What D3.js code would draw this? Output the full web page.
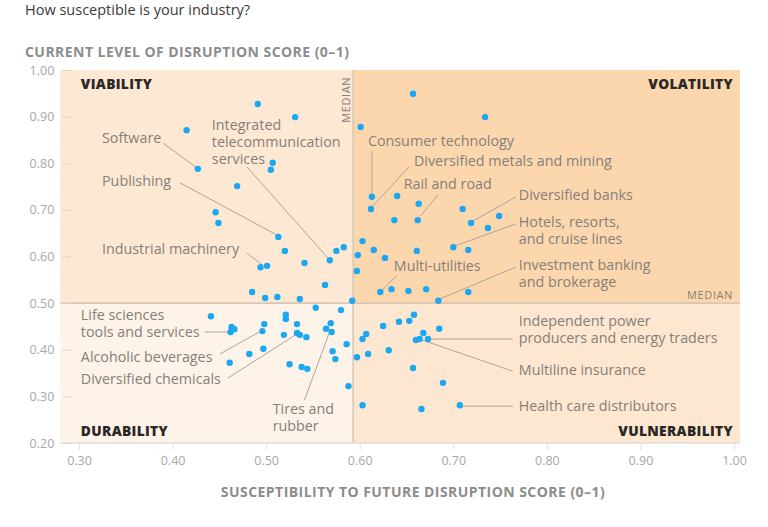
<!DOCTYPE html>
<html lang="en">
<head>
<meta charset="UTF-8">
<title>How susceptible is your industry?</title>
<style>
    html, body { margin: 0; padding: 0; background: #fff; }
    body { font-family: "Open Sans", "DejaVu Sans", sans-serif; }
    .tick text { fill: #a8a8a8; font-size: 12.5px; }
    .lbl { fill: #857f7a; font-size: 14.3px; }
    .quad { fill: #2b2726; font-size: 13.8px; font-weight: 800; letter-spacing: 0.3px; }
    .atitle { fill: #8c8c8c; font-size: 14px; font-weight: 700; letter-spacing: 0.45px; }
</style>
</head>
<body>
<svg id="svg" width="768" height="527"></svg>
<script src="https://d3js.org/d3.v7.min.js"></script>
<script>
// susceptibility to future disruption (x) and current disruption (y), one entry per industry dot
const futureScore = [
    0.491, 0.531, 0.415, 0.507, 0.505, 0.427, 0.469, 0.446, 0.449, 0.513,
    0.520, 0.541, 0.568, 0.575, 0.583, 0.494, 0.501, 0.563, 0.485, 0.499,
    0.512, 0.536, 0.592,
    0.657, 0.734, 0.601, 0.613, 0.612, 0.640, 0.663, 0.710, 0.637, 0.662,
    0.719, 0.749, 0.737, 0.603, 0.598, 0.615, 0.627, 0.661, 0.700, 0.716,
    0.597, 0.622, 0.634, 0.652, 0.671, 0.716, 0.684,
    0.553, 0.580, 0.441, 0.521, 0.521, 0.463, 0.462, 0.466, 0.498, 0.496,
    0.533, 0.533, 0.536, 0.543, 0.519, 0.569, 0.564, 0.570, 0.482, 0.497,
    0.461, 0.571, 0.574, 0.586, 0.525, 0.538, 0.544, 0.588,
    0.658, 0.653, 0.642, 0.625, 0.685, 0.607, 0.603, 0.668, 0.660, 0.664,
    0.673, 0.631, 0.609, 0.597, 0.657, 0.689, 0.603, 0.666, 0.707
];
const currentScore = [
    0.927, 0.899, 0.871, 0.801, 0.786, 0.788, 0.751, 0.695, 0.672, 0.642,
    0.612, 0.586, 0.592, 0.612, 0.620, 0.577, 0.580, 0.539, 0.524, 0.511,
    0.513, 0.509, 0.505,
    0.949, 0.899, 0.878, 0.728, 0.702, 0.730, 0.713, 0.702, 0.678, 0.678,
    0.672, 0.687, 0.661, 0.633, 0.603, 0.614, 0.597, 0.612, 0.620, 0.614,
    0.569, 0.524, 0.530, 0.526, 0.530, 0.524, 0.505,
    0.490, 0.485, 0.472, 0.475, 0.466, 0.449, 0.438, 0.444, 0.455, 0.440,
    0.455, 0.436, 0.432, 0.427, 0.432, 0.457, 0.445, 0.438, 0.391, 0.402,
    0.372, 0.397, 0.380, 0.412, 0.369, 0.363, 0.359, 0.322,
    0.475, 0.462, 0.460, 0.451, 0.445, 0.434, 0.423, 0.436, 0.421, 0.423,
    0.423, 0.399, 0.391, 0.384, 0.361, 0.329, 0.281, 0.273, 0.281
];

const xTicks = [0.30, 0.40, 0.50, 0.60, 0.70, 0.80, 0.90, 1.00];
const yTicks = [0.20, 0.30, 0.40, 0.50, 0.60, 0.70, 0.80, 0.90, 1.00];
const medianX = 0.593;
const medianY = 0.50;

const quadrantNames = ["VIABILITY", "VOLATILITY", "DURABILITY", "VULNERABILITY"];

// callouts: text lines, where the text sits, and the leader line (all in score units)
const callouts = [
    { text: ["Software"], at: [0.3246, 0.854], from: [0.390, 0.843], to: [0.426, 0.790] },
    { text: ["Integrated", "telecommunication", "services"], at: [0.442, 0.882], from: [0.4795, 0.792], to: [0.566, 0.597] },
    { text: ["Publishing"], at: [0.3246, 0.762], from: [0.408, 0.758], to: [0.5115, 0.646] },
    { text: ["Industrial machinery"], at: [0.3246, 0.616], from: [0.4795, 0.6075], to: [0.4944, 0.584] },
    { text: ["Consumer technology"], at: [0.6088, 0.848], from: [0.613, 0.826], to: [0.613, 0.736] },
    { text: ["Diversified metals and mining"], at: [0.658, 0.805], from: [0.6526, 0.792], to: [0.614, 0.708] },
    { text: ["Rail and road"], at: [0.647, 0.755], from: [0.6835, 0.732], to: [0.665, 0.687] },
    { text: ["Diversified banks"], at: [0.770, 0.732], from: [0.767, 0.728], to: [0.721, 0.676] },
    { text: ["Hotels, resorts,", "and cruise lines"], at: [0.770, 0.674], from: [0.767, 0.670], to: [0.7017, 0.6225] },
    { text: ["Multi-utilities"], at: [0.6365, 0.580], from: [0.640, 0.560], to: [0.624, 0.528] },
    { text: ["Investment banking", "and brokerage"], at: [0.770, 0.582], from: [0.767, 0.5775], to: [0.6857, 0.509] },
    { text: ["Life sciences", "tools and services"], at: [0.302, 0.4745], from: [0.4346, 0.438], to: [0.460, 0.438] },
    { text: ["Alcoholic beverages"], at: [0.302, 0.3845], from: [0.4506, 0.391], to: [0.4944, 0.440] },
    { text: ["Diversified chemicals"], at: [0.302, 0.337], from: [0.459, 0.339], to: [0.533, 0.434] },
    { text: ["Tires and", "rubber"], at: [0.507, 0.273], from: [0.541, 0.292], to: [0.567, 0.434] },
    { text: ["Independent power", "producers and energy traders"], at: [0.770, 0.462], from: [0.7637, 0.423], to: [0.674, 0.423] },
    { text: ["Multiline insurance"], at: [0.770, 0.357], from: [0.7637, 0.354], to: [0.6665, 0.421] },
    { text: ["Health care distributors"], at: [0.770, 0.279], from: [0.7637, 0.279], to: [0.710, 0.279] }
];

const svg = d3.select('#svg');

const x = d3.scaleLinear().domain([0.30, 1.00]).range([79, 734]);
const y = d3.scaleLinear().domain([0.20, 1.00]).range([443, 70]);

const plotLeft = x(0.28), plotRight = x(1.0064);
const plotTop = y(1.0), plotBottom = y(0.2);

// quadrant backgrounds
const quads = [
    { x0: plotLeft, x1: x(medianX), y0: plotTop, y1: y(medianY), fill: '#fde8d3' },
    { x0: x(medianX), x1: plotRight, y0: plotTop, y1: y(medianY), fill: '#fcd7ae' },
    { x0: plotLeft, x1: x(medianX), y0: y(medianY), y1: plotBottom, fill: '#fef3e8' },
    { x0: x(medianX), x1: plotRight, y0: y(medianY), y1: plotBottom, fill: '#fde7d0' }
];
svg.append('g')
    .selectAll('rect')
    .data(quads)
    .join('rect')
    .attr('x', d => d.x0)
    .attr('y', d => d.y0)
    .attr('width', d => d.x1 - d.x0)
    .attr('height', d => d.y1 - d.y0)
    .attr('fill', d => d.fill);

// median lines
svg.append('line')
    .attr('x1', x(medianX)).attr('x2', x(medianX))
    .attr('y1', plotTop).attr('y2', plotBottom)
    .attr('stroke', '#d8c7b6').attr('stroke-width', 1.6);
svg.append('line')
    .attr('x1', plotLeft).attr('x2', plotRight)
    .attr('y1', y(medianY)).attr('y2', y(medianY))
    .attr('stroke', '#d8c7b6').attr('stroke-width', 1.6);

// axes
const bottomAxis = d3.axisBottom(x)
    .tickValues(xTicks)
    .tickSize(7)
    .tickPadding(6)
    .tickFormat(d3.format('.2f'));
const gx = svg.append('g')
    .attr('transform', `translate(0, ${plotBottom})`)
    .call(bottomAxis);
gx.select('.domain').remove();
gx.selectAll('.tick line').attr('stroke', '#e2e2e2');
gx.append('line')
    .attr('x1', plotLeft).attr('x2', plotRight)
    .attr('stroke', '#dedede').attr('stroke-width', 1.5);

const leftAxis = d3.axisLeft(y)
    .tickValues(yTicks)
    .tickSize(0)
    .tickPadding(6)
    .tickFormat(d3.format('.2f'));
const gy = svg.append('g')
    .attr('transform', `translate(${plotLeft}, 0)`)
    .call(leftAxis);
gy.select('.domain').remove();
gy.selectAll('.tick line')
    .attr('x1', 2).attr('x2', 11)
    .attr('stroke', '#e0d4c8');

svg.selectAll('.tick text')
    .attr('font-family', '"Open Sans", sans-serif');

// callout leaders
svg.append('g')
    .selectAll('line')
    .data(callouts)
    .join('line')
    .attr('x1', d => x(d.from[0]))
    .attr('y1', d => y(d.from[1]))
    .attr('x2', d => x(d.to[0]))
    .attr('y2', d => y(d.to[1]))
    .attr('stroke', '#aea59c')
    .attr('stroke-width', 1);

// dots
svg.append('g')
    .selectAll('circle')
    .data(futureScore.map((v, i) => [v, currentScore[i]]))
    .join('circle')
    .attr('cx', d => x(d[0]))
    .attr('cy', d => y(d[1]))
    .attr('r', 3.2)
    .attr('fill', '#1ba7f1');

// callout texts
const labels = svg.append('g')
    .selectAll('text')
    .data(callouts)
    .join('text')
    .attr('class', 'lbl')
    .attr('x', d => x(d.at[0]))
    .attr('y', d => y(d.at[1]) + 5);
labels.selectAll('tspan')
    .data(d => d.text.map((t, i) => ({ t, i, x: x(d.at[0]) })))
    .join('tspan')
    .attr('x', d => d.x)
    .attr('dy', d => d.i === 0 ? 0 : 17)
    .text(d => d.t);

// quadrant names
const quadPos = [
    { x: x(0.302), y: y(0.970), anchor: 'start' },
    { x: x(1.0) - 1, y: y(0.970), anchor: 'end' },
    { x: x(0.302), y: y(0.2257), anchor: 'start' },
    { x: x(1.0) - 1, y: y(0.2257), anchor: 'end' }
];
svg.append('g')
    .selectAll('text')
    .data(quadrantNames)
    .join('text')
    .attr('class', 'quad')
    .attr('x', (d, i) => quadPos[i].x)
    .attr('y', (d, i) => quadPos[i].y + 5)
    .attr('text-anchor', (d, i) => quadPos[i].anchor)
    .text(d => d);

// median captions
svg.append('text')
    .attr('class', 'lbl')
    .attr('x', x(1.0) - 1)
    .attr('y', y(0.5174) + 4)
    .attr('text-anchor', 'end')
    .style('font-size', '11px')
    .style('letter-spacing', '0.6px')
    .text('MEDIAN');
svg.append('text')
    .attr('class', 'lbl')
    .attr('transform', `translate(${x(medianX) - 3}, ${y(0.936)}) rotate(-90)`)
    .attr('text-anchor', 'middle')
    .style('font-size', '11px')
    .style('letter-spacing', '0.6px')
    .text('MEDIAN');

// titles
svg.append('text')
    .attr('x', 25)
    .attr('y', 15)
    .style('font-size', '14.5px')
    .style('fill', '#3a3a3a')
    .text('How susceptible is your industry?');

svg.append('text')
    .attr('class', 'atitle')
    .attr('x', 25)
    .attr('y', 57)
    .text('CURRENT LEVEL OF DISRUPTION SCORE (0–1)');

svg.append('text')
    .attr('class', 'atitle')
    .attr('x', 413)
    .attr('y', 497)
    .attr('text-anchor', 'middle')
    .text('SUSCEPTIBILITY TO FUTURE DISRUPTION SCORE (0–1)');
</script>
</body>
</html>
